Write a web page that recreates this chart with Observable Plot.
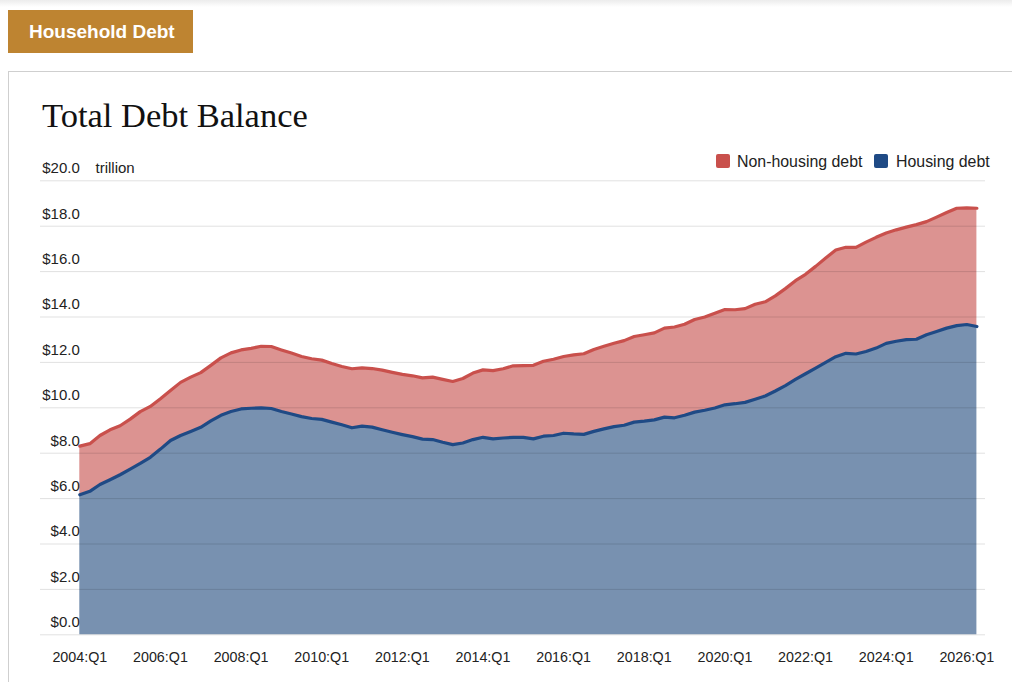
<!DOCTYPE html>
<html>
<head>
<meta charset="utf-8">
<script src="https://cdn.jsdelivr.net/npm/d3@7"></script>
<script src="https://cdn.jsdelivr.net/npm/@observablehq/plot@0.6"></script>
<style>
  html, body { margin: 0; padding: 0; background: #fff; }
  body { width: 1012px; height: 682px; overflow: hidden; position: relative; font-family: "Liberation Sans", Arial, sans-serif; color: #222; }
  #topstrip { position: absolute; left: 0; top: 0; width: 1012px; height: 7px; background: linear-gradient(#ececec, #ffffff); }
  #badge { position: absolute; left: 8px; top: 10px; width: 185px; height: 43px; background: #be8431; color: #fff; font-weight: bold; font-size: 19px; line-height: 43px; text-indent: 21px; box-sizing: border-box; }
  #card { position: absolute; left: 8px; top: 71px; width: 1100px; height: 700px; border: 1px solid #cfcfcf; box-sizing: border-box; }
  #title { position: absolute; left: 42px; top: 95px; font-family: "Liberation Serif", Georgia, serif; font-size: 34.5px; line-height: 40px; color: #111; white-space: nowrap; }
  #chart { position: absolute; left: 0; top: 140px; }
  .sw { position: absolute; width: 14px; height: 14px; border-radius: 2px; }
  .lg { position: absolute; font-size: 15.9px; line-height: 18px; color: #222; white-space: nowrap; }
</style>
</head>
<body>
<div id="topstrip"></div>
<div id="badge">Household Debt</div>
<div id="card"></div>
<div id="title">Total Debt Balance</div>
<div class="sw" style="left:716px;top:154px;background:#c9504c"></div>
<div class="lg" style="left:737px;top:153px">Non-housing debt</div>
<div class="sw" style="left:874px;top:154px;background:#1f4a85"></div>
<div class="lg" style="left:896px;top:153px">Housing debt</div>
<div id="chart"></div>
<script>
// Quarter categories 2004:Q1 .. 2026:Q2
const quarters = [];
for (let y = 2004; y <= 2026; y++) {
  for (let q = 1; q <= 4; q++) {
    if (y === 2026 && q > 2) break;
    quarters.push(y + ":Q" + q);
  }
}

// Housing debt, $ trillion
const housing = [
  6.17, 6.32, 6.62, 6.83, 7.05, 7.30, 7.55, 7.82, 8.18, 8.56,
  8.78, 8.96, 9.14, 9.42, 9.67, 9.84, 9.95, 9.98, 10.00, 9.97,
  9.84, 9.73, 9.61, 9.53, 9.49, 9.37, 9.25, 9.12, 9.19, 9.15,
  9.03, 8.92, 8.82, 8.73, 8.62, 8.60, 8.48, 8.38, 8.45, 8.60,
  8.70, 8.63, 8.67, 8.70, 8.70, 8.63, 8.75, 8.78, 8.88, 8.85,
  8.83, 8.96, 9.07, 9.17, 9.23, 9.37, 9.41, 9.47, 9.59, 9.56,
  9.67, 9.81, 9.89, 9.99, 10.13, 10.18, 10.24, 10.38, 10.52, 10.74,
  10.98, 11.25, 11.50, 11.75, 12.00, 12.25, 12.40, 12.37, 12.48, 12.63,
  12.84, 12.93, 13.00, 13.02, 13.22, 13.36, 13.51, 13.62, 13.67, 13.58
];

// Non-housing debt, $ trillion
const nonHousing = [
  2.14, 2.10, 2.16, 2.20, 2.16, 2.20, 2.28, 2.24, 2.22, 2.20,
  2.34, 2.39, 2.41, 2.45, 2.53, 2.58, 2.60, 2.64, 2.71, 2.73,
  2.71, 2.68, 2.65, 2.63, 2.61, 2.58, 2.57, 2.60, 2.57, 2.58,
  2.63, 2.64, 2.65, 2.68, 2.70, 2.75, 2.77, 2.78, 2.84, 2.93,
  2.97, 3.01, 3.05, 3.15, 3.16, 3.24, 3.30, 3.36, 3.38, 3.48,
  3.55, 3.61, 3.64, 3.67, 3.73, 3.77, 3.81, 3.83, 3.92, 4.00,
  4.01, 4.08, 4.11, 4.18, 4.20, 4.14, 4.13, 4.18, 4.15, 4.19,
  4.27, 4.35, 4.38, 4.48, 4.60, 4.70, 4.67, 4.70, 4.82, 4.88,
  4.86, 4.91, 4.96, 5.05, 4.98, 5.04, 5.09, 5.17, 5.14, 5.21
];

const seriesNames = ["Housing debt", "Non-housing debt"];
const fillColors = {"Housing debt": "#7891b0", "Non-housing debt": "#dc9391"};
const lineColors = {"Housing debt": "#1f4a85", "Non-housing debt": "#c9504c"};

const yTicks = [0, 2, 4, 6, 8, 10, 12, 14, 16, 18, 20];
const xTickLabels = ["2004:Q1","2006:Q1","2008:Q1","2010:Q1","2012:Q1","2014:Q1","2016:Q1","2018:Q1","2020:Q1","2022:Q1","2024:Q1","2026:Q1"];

const rows = [];
quarters.forEach((q, i) => rows.push({q, series: seriesNames[0], value: housing[i]}));
quarters.forEach((q, i) => rows.push({q, series: seriesNames[1], value: nonHousing[i]}));

const chart = Plot.plot({
  width: 1012,
  height: 540,
  marginLeft: 79.3,
  marginRight: 35.6,
  marginTop: 40.3,
  marginBottom: 45.7,
  style: {background: "transparent", fontFamily: "'Liberation Sans', Arial, sans-serif", fontSize: "14px", color: "#222", overflow: "visible"},
  x: {type: "point", domain: quarters, padding: 0, round: false, axis: null},
  y: {domain: [0, 20], axis: null},
  color: {type: "identity"},
  marks: [
    Plot.areaY(rows, {x: "q", y: "value", z: "series", fill: d => fillColors[d.series], fillOpacity: 1}),
    Plot.ruleY(yTicks, {stroke: "#000", strokeOpacity: 0.12, insetLeft: -39.3, insetRight: -8.6}),
    Plot.lineY(rows, Plot.stackY2({x: "q", y: "value", z: "series", stroke: d => lineColors[d.series], strokeWidth: 3.2, strokeLinejoin: "round", strokeLinecap: "round"})),
    Plot.text(yTicks, {y: d => d, text: d => "$" + d.toFixed(1), frameAnchor: "left", textAnchor: "end", lineAnchor: "bottom", dy: -7.6, fontSize: 15, fill: "#222"}),
    Plot.text([20], {y: d => d, text: () => "trillion", frameAnchor: "left", textAnchor: "start", lineAnchor: "bottom", dx: 15.7, dy: -7.6, fontSize: 15, fill: "#222"}),
    Plot.text(xTickLabels, {x: d => d, text: d => d, frameAnchor: "bottom", lineAnchor: "bottom", dy: 27.4, fontSize: 14.3, fill: "#222"})
  ]
});
document.getElementById("chart").appendChild(chart);
</script>
</body>
</html>
